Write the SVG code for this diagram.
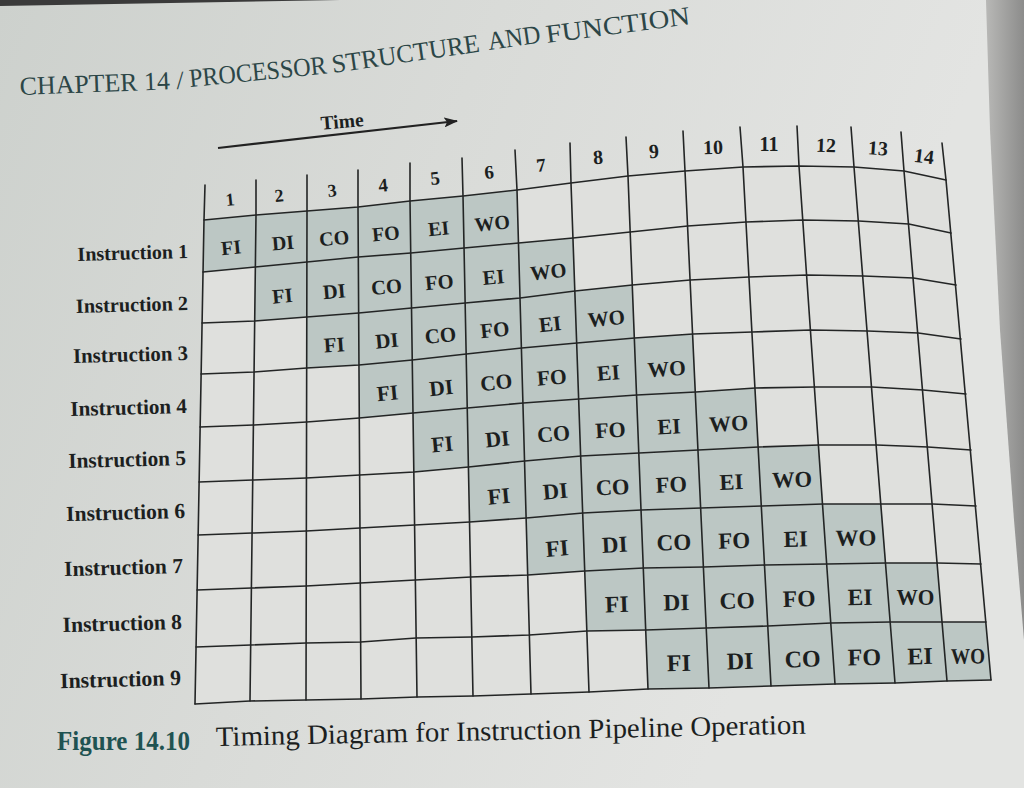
<svg xmlns="http://www.w3.org/2000/svg" width="1024" height="788" viewBox="0 0 1024 788">
<defs>
<linearGradient id="page" x1="0" y1="0" x2="1" y2="0.3">
<stop offset="0" stop-color="#cdd1cd"/>
<stop offset="0.45" stop-color="#d9dbd8"/>
<stop offset="0.9" stop-color="#e3e4e2"/>
</linearGradient>
<linearGradient id="shadow" x1="0" y1="0" x2="1" y2="0">
<stop offset="0" stop-color="#b8b8b6"/>
<stop offset="1" stop-color="#8c8c8b"/>
</linearGradient>
<marker id="arr" viewBox="0 0 14 10" refX="13" refY="5" markerWidth="14" markerHeight="10" markerUnits="userSpaceOnUse" orient="auto">
<path d="M0,0 L14,5 L0,10 L3,5 Z" fill="#222"/>
</marker>
<style>
.ln{fill:none;stroke:#232525;stroke-width:1.6;stroke-linejoin:round;stroke-linecap:round}
.sh{fill:#bcc7c4}
.tt{font-family:"Liberation Serif","Times New Roman",serif;font-size:26px;fill:#2c4647}
.st{font-family:"Liberation Serif","Times New Roman",serif;font-weight:bold;fill:#1c1f1f;text-anchor:middle}
.num{font-family:"Liberation Serif","Times New Roman",serif;font-weight:bold;fill:#1c1f1f;text-anchor:middle}
.lab{font-family:"Liberation Serif","Times New Roman",serif;font-weight:bold;fill:#1c1f1f;text-anchor:end}
.r1{font-size:20px}.r2{font-size:20.5px}.r3{font-size:21px}.r4{font-size:21.5px}.r5{font-size:22px}.r6{font-size:22.5px}.r7{font-size:23px}.r8{font-size:23.5px}.r9{font-size:24px}
</style>
</defs>

<rect x="0" y="0" width="1024" height="788" fill="url(#page)"/>
<polygon points="986,0 1024,0 1024,640 1014,520 1000,330 990,130" fill="url(#shadow)"/>
<polygon points="0,0 340,0 0,6" fill="#3a3a3a"/>

<g id="title">
<text class="tt" x="20" y="95" textLength="164" lengthAdjust="spacingAndGlyphs" transform="rotate(-2.2 20 95)">CHAPTER 14 /</text>
<text class="tt" x="190" y="87" textLength="138" lengthAdjust="spacingAndGlyphs" transform="rotate(-5.6 190 87)">PROCESSOR</text>
<text class="tt" x="333" y="73" textLength="149" lengthAdjust="spacingAndGlyphs" transform="rotate(-8.3 333 73)">STRUCTURE</text>
<text class="tt" x="489" y="50" textLength="53" lengthAdjust="spacingAndGlyphs" transform="rotate(-8.3 489 50)">AND</text>
<text class="tt" x="547" y="43" font-size="25" textLength="145" lengthAdjust="spacingAndGlyphs" transform="rotate(-7.5 547 43)">FUNCTION</text>
</g>

<g id="time-label">
<text class="num" x="342" y="128" font-size="19.5" transform="rotate(-5 342 121)">Time</text>
</g>

<g id="connectors">
<line x1="218" y1="148" x2="457" y2="121" stroke="#222" stroke-width="2.2" marker-end="url(#arr)"/>
</g>

<g id="grid-fill">
<polygon points="204,220 256,215 307,211 358,207 410,201 463,196 517,190 571,183 628,176 685,171 743,167 799,166 854,167 904,171 946,180 991,680 947,681 895,683 835,684 771,686 709,688 648,689 589,692 531,694 473,696 417,697 361,699 306,700 250,701 195,704" fill="#dfe0dd"/>
</g>

<g id="shading">
<polygon class="sh" points="204,220 256,215 307,211 358,207 410,201 463,196 517,190 518.6,243 464.1,248 410.8,253 358.3,257 306.9,262 255.3,267 203,272"/>
<polygon class="sh" points="255.3,267 306.9,262 358.3,257 410.8,253 464.1,248 518.6,243 573,238 575,291 520.1,298 465.2,303 411.6,308 358.7,313 306.8,317 254.7,321"/>
<polygon class="sh" points="306.8,317 358.7,313 411.6,308 465.2,303 520.1,298 575,291 632.4,285 634.7,338 577,343 521.7,348 466.3,354 412.3,360 359,365 306.7,368"/>
<polygon class="sh" points="359,365 412.3,360 466.3,354 521.7,348 577,343 634.7,338 693,334 695.7,392 636.9,395 579,399 523.2,403 467.4,408 413.1,413 359.3,418"/>
<polygon class="sh" points="413.1,413 467.4,408 523.2,403 579,399 636.9,395 695.7,392 755.4,388 758.6,447 698.3,450 639.1,453 581,456 524.8,461 468.6,467 413.9,472"/>
<polygon class="sh" points="468.6,467 524.8,461 581,456 639.1,453 698.3,450 758.6,447 819,445 823,504 761.7,506 701,508 641.3,510 583,513 526.3,518 469.7,522"/>
<polygon class="sh" points="526.3,518 583,513 641.3,510 701,508 761.7,506 823,504 881.3,504 885.9,563 827,564 764.8,565 703.7,567 643.6,568 585,571 527.9,575"/>
<polygon class="sh" points="585,571 643.6,568 703.7,567 764.8,565 827,564 885.9,563 937.4,563 942.2,622 890.4,622 831,623 767.9,626 706.3,628 645.8,630 587,631"/>
<polygon class="sh" points="645.8,630 706.3,628 767.9,626 831,623 890.4,622 942.2,622 986,622 991,680 947,681 895,683 835,684 771,686 709,688 648,689"/>
</g>

<g id="grid-lines">
<polyline class="ln" points="204,220 256,215 307,211 358,207 410,201 463,196 517,190 571,183 628,176 685,171 743,167 799,166 854,167 904,171 946,180"/>
<polyline class="ln" points="203,272 255.3,267 306.9,262 358.3,257 410.8,253 464.1,248 518.6,243 573,238 630.2,232 687.7,226 746.1,222 803,220 858.6,221 908.8,224 951,233"/>
<polyline class="ln" points="202,323 254.7,321 306.8,317 358.7,313 411.6,308 465.2,303 520.1,298 575,291 632.4,285 690.3,280 749.2,277 807,275 863.1,276 913.6,278 956,285"/>
<polyline class="ln" points="201,374 254,372 306.7,368 359,365 412.3,360 466.3,354 521.7,348 577,343 634.7,338 693,334 752.3,332 811,330 867.7,331 918.3,333 961,339"/>
<polyline class="ln" points="200,427 253.3,425 306.6,422 359.3,418 413.1,413 467.4,408 523.2,403 579,399 636.9,395 695.7,392 755.4,388 815,387 872.2,387 923.1,390 966,394"/>
<polyline class="ln" points="199,482 252.7,480 306.4,478 359.7,475 413.9,472 468.6,467 524.8,461 581,456 639.1,453 698.3,450 758.6,447 819,445 876.8,445 927.9,447 971,450"/>
<polyline class="ln" points="198,535 252,533 306.3,531 360,528 414.7,525 469.7,522 526.3,518 583,513 641.3,510 701,508 761.7,506 823,504 881.3,504 932.7,504 976,506"/>
<polyline class="ln" points="197,590 251.3,588 306.2,586 360.3,583 415.4,580 470.8,577 527.9,575 585,571 643.6,568 703.7,567 764.8,565 827,564 885.9,563 937.4,563 981,564"/>
<polyline class="ln" points="196,647 250.7,645 306.1,643 360.7,642 416.2,638 471.9,637 529.4,635 587,631 645.8,630 706.3,628 767.9,626 831,623 890.4,622 942.2,622 986,622"/>
<polyline class="ln" points="195,704 250,701 306,700 361,699 417,697 473,696 531,694 589,692 648,689 709,688 771,686 835,684 895,683 947,681 991,680"/>
<polyline class="ln" points="205,185 204,220 195,704"/>
<polyline class="ln" points="256,180 256,215 250,701"/>
<polyline class="ln" points="307,175 307,211 306,700"/>
<polyline class="ln" points="358,170 358,207 361,699"/>
<polyline class="ln" points="410,163 410,201 417,697"/>
<polyline class="ln" points="462,158 463,196 473,696"/>
<polyline class="ln" points="515,150 517,190 531,694"/>
<polyline class="ln" points="570,143 571,183 589,692"/>
<polyline class="ln" points="626,137 628,176 648,689"/>
<polyline class="ln" points="683,131 685,171 709,688"/>
<polyline class="ln" points="740,127 743,167 771,686"/>
<polyline class="ln" points="797,126 799,166 835,684"/>
<polyline class="ln" points="851,127 854,167 895,683"/>
<polyline class="ln" points="901,132 904,171 947,681"/>
<polyline class="ln" points="942,143 946,180 991,680"/>
</g>

<g id="header-numbers">
<text class="num" font-size="18" x="230" y="205.5" transform="rotate(-6 230 199)">1</text>
<text class="num" font-size="18" x="279" y="201.5" transform="rotate(-6 279 195)">2</text>
<text class="num" font-size="18" x="332" y="196.5" transform="rotate(-6 332 190)">3</text>
<text class="num" font-size="19" x="383" y="191.5" transform="rotate(-6 383 185)">4</text>
<text class="num" font-size="19" x="435" y="184.5" transform="rotate(-6 435 178)">5</text>
<text class="num" font-size="19" x="489" y="178.5" transform="rotate(-6 489 172)">6</text>
<text class="num" font-size="19" x="541" y="171.5" transform="rotate(-6 541 165)">7</text>
<text class="num" font-size="20" x="598" y="164" transform="rotate(-4 598 157)">8</text>
<text class="num" font-size="20" x="654" y="158" transform="rotate(-3 654 151)">9</text>
<text class="num" font-size="20" x="713" y="154" transform="rotate(-2 713 147)">10</text>
<text class="num" font-size="20" x="769" y="151" transform="rotate(0 769 144)">11</text>
<text class="num" font-size="20" x="826" y="152" transform="rotate(2 826 145)">12</text>
<text class="num" font-size="20" x="878" y="155" transform="rotate(4 878 148)">13</text>
<text class="num" font-size="20" x="924" y="163" transform="rotate(7 924 156)">14</text>
</g>

<g id="instruction-labels">
<text class="lab" font-size="20" x="188" y="258" transform="rotate(-1.5 188 252)">Instruction 1</text>
<text class="lab" font-size="20.3" x="188" y="310" transform="rotate(-1.5 188 304)">Instruction 2</text>
<text class="lab" font-size="20.8" x="188" y="360" transform="rotate(-1.5 188 354)">Instruction 3</text>
<text class="lab" font-size="21.1" x="187" y="413" transform="rotate(-1.5 187 407)">Instruction 4</text>
<text class="lab" font-size="21.3" x="186" y="465" transform="rotate(-1.5 186 459)">Instruction 5</text>
<text class="lab" font-size="21.5" x="185" y="518" transform="rotate(-1.5 185 512)">Instruction 6</text>
<text class="lab" font-size="21.5" x="183" y="573" transform="rotate(-1.5 183 567)">Instruction 7</text>
<text class="lab" font-size="21.6" x="182" y="629" transform="rotate(-1.5 182 623)">Instruction 8</text>
<text class="lab" font-size="21.9" x="181" y="685" transform="rotate(-1.5 181 679)">Instruction 9</text>
</g>

<g id="instr-1" class="st r1">
<text x="231" y="254.3" transform="rotate(-5.5 231 247)">FI</text>
<text x="282.8" y="249.6" transform="rotate(-5 282.8 242)">DI</text>
<text x="334.1" y="245" transform="rotate(-5 334.1 238)">CO</text>
<text x="385.8" y="240.3" transform="rotate(-5.5 385.8 233)">FO</text>
<text x="438.5" y="235.3" transform="rotate(-5.4 438.5 228)">EI</text>
<text x="492.2" y="230" transform="rotate(-5.8 492.2 223)">WO</text>
</g>
<g id="instr-2" class="st r2">
<text x="282.4" y="302.8" transform="rotate(-5 282.4 296)">FI</text>
<text x="334.2" y="298.3" transform="rotate(-5 334.2 291)">DI</text>
<text x="386.4" y="293.8" transform="rotate(-4.9 386.4 287)">CO</text>
<text x="439.4" y="289" transform="rotate(-5.3 439.4 282)">FO</text>
<text x="493.5" y="284" transform="rotate(-5.2 493.5 277)">EI</text>
<text x="548.2" y="278.5" transform="rotate(-6.2 548.2 271)">WO</text>
</g>
<g id="instr-3" class="st r3">
<text x="334.3" y="351.9" transform="rotate(-3.9 334.3 345)">FI</text>
<text x="386.9" y="347.6" transform="rotate(-5.4 386.9 340)">DI</text>
<text x="440.4" y="342.4" transform="rotate(-5.8 440.4 335)">CO</text>
<text x="494.8" y="336.9" transform="rotate(-5.7 494.8 330)">FO</text>
<text x="550" y="331.1" transform="rotate(-6.1 550 324)">EI</text>
<text x="606.3" y="325.4" transform="rotate(-5.5 606.3 318)">WO</text>
</g>
<g id="instr-4" class="st r4">
<text x="387.4" y="400.3" transform="rotate(-5.4 387.4 393)">FI</text>
<text x="441.3" y="395" transform="rotate(-5.8 441.3 388)">DI</text>
<text x="496.2" y="389.6" transform="rotate(-5.7 496.2 382)">CO</text>
<text x="551.7" y="384.6" transform="rotate(-4.6 551.7 377)">FO</text>
<text x="608.4" y="380" transform="rotate(-4.4 608.4 373)">EI</text>
<text x="666.6" y="376" transform="rotate(-3.5 666.6 369)">WO</text>
</g>
<g id="instr-5" class="st r5">
<text x="442.2" y="451.5" transform="rotate(-5.3 442.2 444)">FI</text>
<text x="497.5" y="446.3" transform="rotate(-5.7 497.5 439)">DI</text>
<text x="553.5" y="441.3" transform="rotate(-4.6 553.5 434)">CO</text>
<text x="610.5" y="437.3" transform="rotate(-3.5 610.5 430)">FO</text>
<text x="669" y="434" transform="rotate(-2.9 669 427)">EI</text>
<text x="728.5" y="430.8" transform="rotate(-3.3 728.5 423)">WO</text>
</g>
<g id="instr-6" class="st r6">
<text x="498.8" y="503.7" transform="rotate(-5.1 498.8 496)">FI</text>
<text x="555.3" y="498.7" transform="rotate(-5 555.3 491)">DI</text>
<text x="612.6" y="494.7" transform="rotate(-3 612.6 487)">CO</text>
<text x="671.4" y="492" transform="rotate(-2.4 671.4 484)">FO</text>
<text x="731.4" y="489.5" transform="rotate(-2.3 731.4 482)">EI</text>
<text x="792.1" y="487.2" transform="rotate(-1.8 792.1 480)">WO</text>
</g>
<g id="instr-7" class="st r7">
<text x="557" y="556" transform="rotate(-4.5 557 548)">FI</text>
<text x="614.7" y="552.3" transform="rotate(-3 614.7 545)">DI</text>
<text x="673.9" y="550" transform="rotate(-1.4 673.9 542)">CO</text>
<text x="734.3" y="548.3" transform="rotate(-1.9 734.3 541)">FO</text>
<text x="795.6" y="546.6" transform="rotate(-1.4 795.6 539)">EI</text>
<text x="855.8" y="545.6" transform="rotate(-0.5 855.8 538)">WO</text>
</g>
<g id="instr-8" class="st r8">
<text x="616.8" y="612" transform="rotate(-1.9 616.8 604)">FI</text>
<text x="676.3" y="610.3" transform="rotate(-1.4 676.3 602)">DI</text>
<text x="737.2" y="608.5" transform="rotate(-1.8 737.2 601)">CO</text>
<text x="799.2" y="606.5" transform="rotate(-1.8 799.2 599)">FO</text>
<text x="860.1" y="605" transform="rotate(-1 860.1 597)">EI</text>
<text x="915.5" y="604.5" textLength="38" lengthAdjust="spacingAndGlyphs">WO</text>
</g>
<g id="instr-9" class="st r9">
<text x="678.8" y="671" transform="rotate(-1.4 678.8 663)">FI</text>
<text x="740" y="669.2" transform="rotate(-1.8 740 661)">DI</text>
<text x="802.7" y="667" transform="rotate(-2.3 802.7 659)">CO</text>
<text x="864.3" y="665.2" transform="rotate(-1 864.3 657)">FO</text>
<text x="920.1" y="664.2" transform="rotate(-1.1 920.1 656)">EI</text>
<text x="968" y="663.5" font-size="22" textLength="34" lengthAdjust="spacingAndGlyphs" transform="rotate(-0.7 968 656)">WO</text>
</g>

<g id="caption">
<text x="57" y="750" font-family="Liberation Serif, Times New Roman, serif" font-weight="bold" font-size="27" fill="#1f5352" textLength="133" lengthAdjust="spacingAndGlyphs">Figure 14.10</text>
<text x="216" y="746" font-family="Liberation Serif, Times New Roman, serif" font-size="28" fill="#1c1f1f" textLength="590" lengthAdjust="spacingAndGlyphs" transform="rotate(-1.2 216 746)">Timing Diagram for Instruction Pipeline Operation</text>
</g>
</svg>
